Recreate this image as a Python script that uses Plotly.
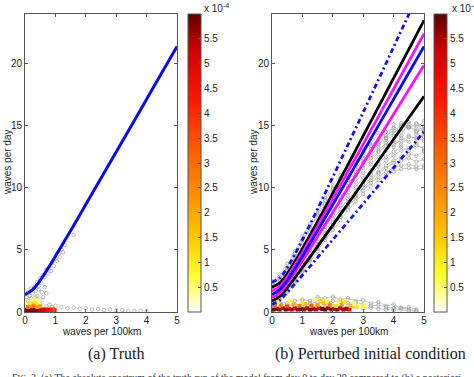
import plotly.graph_objects as go

W, H = 474, 377

# ---------------- data ----------------
line_x = [0, 0.25, 0.5, 0.75, 1, 1.25, 1.5, 1.75, 2, 2.5, 3, 3.5, 4, 4.5, 5]
truth_y = [1.4, 1.80, 2.55, 3.49, 4.49, 5.51, 6.55, 7.60, 8.65, 10.77, 12.89, 15.01, 17.14, 19.27, 21.39]

dash_up = [2.4, 2.74, 3.57, 4.64, 5.82, 7.05, 8.30, 9.58, 10.87, 13.47, 16.08, 18.70, 21.34, 23.97, 26.6]
black_up = [2.0, 2.32, 3.08, 4.04, 5.09, 6.18, 7.30, 8.43, 9.57, 11.87, 14.18, 16.50, 18.83, 21.15, 23.49]
mag_up = [1.7, 2.03, 2.81, 3.76, 4.78, 5.84, 6.92, 8.00, 9.10, 11.30, 13.52, 15.74, 17.96, 20.19, 22.41]
blue_mid = [1.4, 1.80, 2.55, 3.49, 4.49, 5.51, 6.55, 7.60, 8.65, 10.77, 12.89, 15.01, 17.14, 19.27, 21.39]
mag_lo = [1.15, 1.52, 2.29, 3.19, 4.13, 5.09, 6.07, 7.04, 8.02, 9.99, 11.97, 13.94, 15.92, 17.90, 19.88]
black_lo = [0.9, 1.25, 1.95, 2.75, 3.58, 4.43, 5.28, 6.14, 7.00, 8.72, 10.45, 12.18, 13.91, 15.64, 17.37]
dash_lo = [0.6, 0.94, 1.57, 2.26, 2.96, 3.67, 4.39, 5.11, 5.83, 7.27, 8.72, 10.17, 11.62, 13.06, 14.51]

ens_x = [0, 0.25, 0.5, 0.75, 1, 1.25, 1.5, 1.75, 2, 2.25, 2.5, 2.75, 3, 3.25, 3.5, 3.75, 4, 4.25, 4.5, 4.75, 5]
ens_members = [
    [2.2, 2.6, 3.4, 4.5, 5.6, 6.7, 7.8, 8.7, 9.6, 10.3, 11.0, 11.8, 12.4, 13.1, 13.6, 14.2, 14.6, 15.0, 14.8, 15.2, 15.0],
    [1.8, 2.2, 3.0, 4.0, 5.1, 6.1, 7.2, 8.2, 9.1, 9.9, 10.6, 11.3, 12.0, 12.6, 13.3, 13.9, 14.2, 14.6, 14.9, 14.5, 14.7],
    [1.4, 1.9, 2.6, 3.6, 4.6, 5.5, 6.6, 7.5, 8.5, 9.3, 10.1, 10.9, 11.6, 12.2, 12.9, 13.4, 13.8, 13.5, 14.1, 14.0, 13.8],
    [1.2, 1.5, 2.2, 3.1, 4.0, 5.0, 5.9, 6.9, 7.8, 8.6, 9.4, 10.1, 10.8, 11.4, 12.0, 12.5, 12.9, 13.3, 13.0, 13.4, 13.2],
    [1.0, 1.3, 1.9, 2.7, 3.6, 4.5, 5.4, 6.3, 7.2, 8.0, 8.8, 9.5, 10.2, 10.8, 11.3, 11.8, 12.2, 12.5, 12.7, 12.6, 12.9],
    [0.8, 1.1, 1.6, 2.4, 3.2, 4.1, 4.9, 5.8, 6.6, 7.4, 8.2, 8.9, 9.5, 10.1, 10.6, 11.0, 11.3, 11.5, 11.6, 11.5, 11.6],
    [2.5, 3.0, 3.9, 4.9, 6.1, 7.1, 8.2, 9.2, 10.2, 11.0, 11.7, 12.5, 13.2, 13.5, 14.4, 14.0, 15.1, 14.2, 15.3, 14.8, 15.4],
    [1.6, 2.0, 2.8, 3.8, 4.8, 5.8, 6.9, 7.8, 8.8, 9.6, 10.4, 11.0, 11.9, 12.4, 13.0, 13.6, 13.3, 14.0, 13.7, 14.3, 14.1],
    [2.0, 2.5, 3.3, 4.3, 5.3, 6.4, 7.4, 8.4, 9.3, 10.1, 10.8, 11.5, 12.3, 12.9, 13.5, 14.0, 14.4, 14.9, 15.0, 14.6, 14.9],
    [1.3, 1.7, 2.4, 3.3, 4.3, 5.3, 6.3, 7.2, 8.1, 9.0, 9.8, 10.5, 11.2, 11.9, 12.5, 13.0, 13.5, 13.8, 14.2, 13.9, 14.4],
    [0.9, 1.2, 1.8, 2.6, 3.4, 4.3, 5.2, 6.1, 7.0, 7.8, 8.6, 9.3, 10.0, 10.6, 11.2, 11.6, 12.0, 12.2, 12.4, 12.1, 12.3],
    [1.1, 1.4, 2.0, 2.9, 3.8, 4.7, 5.7, 6.6, 7.5, 8.3, 9.1, 9.8, 10.5, 11.1, 11.7, 12.2, 12.6, 13.0, 13.2, 13.6, 13.0],
    [2.3, 2.8, 3.6, 4.7, 5.8, 6.9, 7.9, 9.0, 9.9, 10.7, 11.4, 12.1, 12.8, 13.4, 13.9, 14.5, 14.8, 15.2, 14.9, 15.1, 14.6],
    [0.7, 1.0, 1.7, 2.5, 3.3, 4.2, 5.1, 6.0, 6.9, 7.7, 8.5, 9.2, 9.8, 10.4, 10.9, 11.3, 11.6, 11.8, 11.9, 11.7, 11.8],
]

band_x = [0, 0.25, 0.5, 0.75, 1, 1.25, 1.5, 1.75, 2, 2.25, 2.5, 2.75, 3, 3.25, 3.5, 3.75, 4, 4.25, 4.5, 4.75]
band_members = [
    [0.6, 0.8, 0.7, 0.9, 1.0, 0.9, 1.2, 1.1, 1.25, 1.0, 1.1, 0.9, 0.95, 0.7, 0.8, 0.5, 0.6, 0.3, 0.4, 0.2],
    [0.3, 0.4, 0.5, 0.6, 0.5, 0.7, 0.8, 0.7, 0.9, 0.8, 0.7, 0.75, 0.6, 0.5, 0.55, 0.4, 0.3, 0.35, 0.2, 0.1],
    [0.15, 0.2, 0.3, 0.25, 0.35, 0.4, 0.5, 0.45, 0.5, 0.4, 0.45, 0.35, 0.3, 0.35, 0.25, 0.2, 0.15, 0.2, 0.1, 0.05],
]

left_gray_x = [0.05, 0.1, 0.15, 0.2, 0.25, 0.3, 0.35, 0.4, 0.45, 0.5, 0.55, 0.6, 0.65, 0.7, 0.75, 0.8, 0.85, 0.9,
               0.95, 1.0, 1.05, 1.1, 1.15, 1.2, 1.25, 1.3, 1.6,
               0.1, 0.2, 0.3, 0.4, 0.5, 0.55, 0.6, 0.65, 0.45, 0.35, 0.15, 0.7,
               0.8, 0.9, 1.0, 1.2, 1.4, 1.6, 1.8, 2.0, 2.2, 2.4, 2.6, 2.8, 3.0, 3.2, 3.4, 3.6, 3.8, 4.0,
               0.3, 0.5, 0.7]
left_gray_y = [1.2, 1.6, 1.3, 1.9, 1.5, 2.0, 1.7, 2.4, 2.1, 2.7, 2.3, 3.0, 2.8, 3.4, 3.1, 3.6, 3.3, 4.0,
               3.7, 4.3, 4.1, 4.7, 4.4, 5.0, 4.8, 5.4, 6.2,
               0.9, 1.1, 0.8, 1.3, 1.0, 1.6, 1.2, 2.0, 1.8, 1.2, 0.7, 1.5,
               0.6, 0.4, 0.5, 0.4, 0.3, 0.35, 0.25, 0.3, 0.2, 0.25, 0.15, 0.2, 0.12, 0.15, 0.1, 0.08, 0.1, 0.05,
               0.6, 0.7, 0.45]

left_col_x = [0.02, 0.08, 0.14, 0.2, 0.26, 0.32, 0.38, 0.44, 0.5, 0.56, 0.62, 0.68, 0.74, 0.8, 0.86, 0.92, 0.98,
              0.1, 0.2, 0.3, 0.4, 0.5, 0.15, 0.35, 0.25, 0.45]
left_col_y = [0.15, 0.2, 0.15, 0.2, 0.15, 0.2, 0.15, 0.2, 0.15, 0.2, 0.15, 0.2, 0.15, 0.2, 0.15, 0.2, 0.15,
              0.4, 0.45, 0.5, 0.4, 0.45, 0.7, 0.75, 1.0, 0.9]
left_col_c = [5.9, 5.8, 5.9, 5.7, 5.9, 5.6, 5.8, 5.5, 5.4, 5.6, 5.0, 5.2, 4.6, 4.8, 4.2, 4.0, 3.5,
              3.0, 2.5, 2.8, 2.0, 2.2, 1.0, 1.2, 0.6, 0.5]

right_col_x = [0.05, 0.15, 0.25, 0.35, 0.45, 0.55, 0.65, 0.75, 0.85, 0.95, 1.05, 1.15, 1.25, 1.35, 1.45, 1.55,
               1.65, 1.75, 1.85, 1.95, 2.05, 2.15, 2.25, 2.35, 2.45, 2.55,
               0.1, 0.3, 0.5, 0.7, 0.9, 1.1, 1.3, 1.5, 1.7, 1.9, 2.1, 2.3, 2.6, 2.8, 3.0, 1.6, 2.4,
               0.2, 0.6, 1.0, 1.4, 1.8, 2.2, 2.7, 3.1, 1.6]
right_col_y = [0.2, 0.25, 0.2, 0.3, 0.2, 0.25, 0.2, 0.3, 0.2, 0.25, 0.2, 0.3, 0.2, 0.25, 0.2, 0.3,
               0.25, 0.2, 0.3, 0.2, 0.25, 0.2, 0.3, 0.2, 0.25, 0.2,
               0.5, 0.55, 0.45, 0.6, 0.5, 0.65, 0.5, 0.55, 0.7, 0.6, 0.5, 0.65, 0.5, 0.45, 0.4, 0.9, 0.8,
               0.8, 0.9, 0.75, 1.0, 0.85, 0.9, 0.7, 0.6, 5.9]
right_col_c = [5.8, 5.9, 5.6, 5.2, 5.9, 5.7, 5.5, 5.0, 5.8, 5.9, 5.6, 5.3, 5.9, 5.7, 5.4, 5.0,
               5.8, 5.9, 5.5, 5.7, 5.2, 5.8, 5.0, 5.6, 5.4, 4.8,
               3.0, 2.5, 3.5, 2.0, 2.8, 1.5, 3.2, 2.2, 1.8, 2.6, 1.2, 2.0, 1.6, 1.0, 0.8, 1.4, 1.0,
               0.9, 0.6, 1.1, 0.5, 0.8, 0.7, 0.5, 0.4, 1.0]

cbar_ticks = [0.5, 1, 1.5, 2, 2.5, 3, 3.5, 4, 4.5, 5, 5.5]
cbar_labels = ["0.5", "1", "1.5", "2", "2.5", "3", "3.5", "4", "4.5", "5", "5.5"]
x_ticks = [0, 1, 2, 3, 4, 5]
y_ticks = [0, 5, 10, 15, 20]

# ---------------- layout helpers ----------------
def px_x(p):
    return p / W

def px_y(p):
    return (H - p) / H

PLOT_TOP, PLOT_BOT = 14, 312
L_X0, L_X1 = 25, 177
R_X0, R_X1 = 272, 424

hot_scale = [
    [0.0, "#ffffff"], [0.12, "#ffff30"], [0.25, "#ffc800"], [0.4, "#ff8c00"],
    [0.55, "#ff5a00"], [0.72, "#ff1400"], [0.88, "#d20000"], [1.0, "#5a0000"],
]

fig = go.Figure()

GRAY = "#a0a0a0"
gray_marker = dict(symbol="circle-open", size=3.5, color=GRAY, line=dict(width=0.7))

fig.add_trace(go.Scatter(x=left_gray_x, y=left_gray_y, mode="markers", xaxis="x", yaxis="y",
                         marker=gray_marker, showlegend=False, hoverinfo="skip"))
fig.add_trace(go.Scatter(x=left_col_x, y=left_col_y, mode="markers", xaxis="x", yaxis="y",
                         marker=dict(symbol="square", size=4, color=left_col_c, coloraxis="coloraxis"),
                         showlegend=False, hoverinfo="skip"))
fig.add_trace(go.Scatter(x=line_x, y=truth_y, mode="lines", xaxis="x", yaxis="y",
                         line=dict(color="#0a0ae6", width=3, shape="spline"), showlegend=False))

for m in ens_members:
    fig.add_trace(go.Scatter(x=ens_x, y=m, mode="lines+markers", xaxis="x2", yaxis="y2",
                             line=dict(color="#b8b8b8", width=0.7), marker=gray_marker,
                             showlegend=False, hoverinfo="skip"))
for m in band_members:
    fig.add_trace(go.Scatter(x=band_x, y=m, mode="lines+markers", xaxis="x2", yaxis="y2",
                             line=dict(color="#b8b8b8", width=0.7), marker=gray_marker,
                             showlegend=False, hoverinfo="skip"))
fig.add_trace(go.Scatter(x=right_col_x, y=right_col_y, mode="markers", xaxis="x2", yaxis="y2",
                         marker=dict(symbol="square", size=4, color=right_col_c, coloraxis="coloraxis2"),
                         showlegend=False, hoverinfo="skip"))

DASH = "5px,3px,2px,3px"
right_lines = [
    (dash_up, "#1414e6", DASH),
    (dash_lo, "#1414e6", DASH),
    (black_up, "#000000", "solid"),
    (black_lo, "#000000", "solid"),
    (mag_up, "#ff14ff", "solid"),
    (mag_lo, "#ff14ff", "solid"),
    (blue_mid, "#0a0ae6", "solid"),
]
for ys, col, dash in right_lines:
    fig.add_trace(go.Scatter(x=line_x, y=ys, mode="lines", xaxis="x2", yaxis="y2",
                             line=dict(color=col, width=2.8, dash=dash, shape="spline"), showlegend=False))

axis_font = dict(family="Liberation Sans, Arial", size=10, color="#222222")
common_x = dict(range=[0, 5], tickvals=x_ticks, ticks="inside", ticklen=3, tickcolor="#555",
                showline=True, linecolor="#555", linewidth=1, mirror="ticks", showgrid=False,
                zeroline=False, tickfont=axis_font, fixedrange=True, ticklabelstandoff=-1)
common_y = dict(range=[0, 24], tickvals=y_ticks, ticks="inside", ticklen=3, tickcolor="#555",
                showline=True, linecolor="#555", linewidth=1, mirror="ticks", showgrid=False,
                zeroline=False, tickfont=axis_font, fixedrange=True)

def cbar(xpix):
    return dict(x=px_x(xpix), xanchor="left", xpad=0, y=px_y(PLOT_TOP), yanchor="top", ypad=0,
                len=PLOT_BOT - PLOT_TOP, lenmode="pixels", thickness=13, thicknessmode="pixels",
                outlinecolor="#555", outlinewidth=1, tickvals=cbar_ticks, ticktext=cbar_labels,
                ticks="inside", ticklen=3, tickcolor="#555", tickfont=axis_font)

fig.update_layout(
    width=W, height=H, margin=dict(l=0, r=0, t=0, b=0, autoexpand=False),
    paper_bgcolor="white", plot_bgcolor="white",
    xaxis=dict(domain=[px_x(L_X0), px_x(L_X1)], anchor="y", **common_x),
    yaxis=dict(domain=[px_y(PLOT_BOT), px_y(PLOT_TOP)], anchor="x", **common_y),
    xaxis2=dict(domain=[px_x(R_X0), px_x(R_X1)], anchor="y2", **common_x),
    yaxis2=dict(domain=[px_y(PLOT_BOT), px_y(PLOT_TOP)], anchor="x2", **common_y),
    coloraxis=dict(cmin=0, cmax=6, colorscale=hot_scale, colorbar=cbar(188)),
    coloraxis2=dict(cmin=0, cmax=6, colorscale=hot_scale, colorbar=cbar(434)),
    showlegend=False,
)

ann = []
title_font = dict(family="Liberation Sans, Arial", size=10, color="#222222")
for cx in [(L_X0 + L_X1) / 2, (R_X0 + R_X1) / 2]:
    ann.append(dict(text="waves per 100km", x=px_x(cx), y=px_y(331), xref="paper", yref="paper",
                    showarrow=False, xanchor="center", yanchor="middle", font=title_font))
for cx in [7, 253]:
    ann.append(dict(text="waves per day", x=px_x(cx), y=px_y((PLOT_TOP + PLOT_BOT) / 2), xref="paper",
                    yref="paper", showarrow=False, textangle=-90, xanchor="center", yanchor="middle",
                    font=title_font))
for lx in [202, 450]:
    ann.append(dict(text="x 10<sup>-4</sup>", x=px_x(lx), y=px_y(8), xref="paper", yref="paper",
                    showarrow=False, xanchor="left", yanchor="middle", font=title_font))
serif = dict(family="Liberation Serif, Times New Roman", size=16, color="#222222")
ann.append(dict(text="(a) Truth", x=px_x(115.5), y=px_y(354), xref="paper", yref="paper",
                showarrow=False, xanchor="center", yanchor="middle", font=serif))
ann.append(dict(text="(b) Perturbed initial condition", x=px_x(370), y=px_y(354), xref="paper", yref="paper",
                showarrow=False, xanchor="center", yanchor="middle", font=serif))
ann.append(dict(text="F<span style='font-size:8px'>IG</span>. 3. (a) The absolute spectrum of the truth run of the model from day 0 to day 20 compared to (b) a posteriori",
                x=px_x(10), y=px_y(370), xref="paper", yref="paper", showarrow=False,
                xanchor="left", yanchor="top",
                font=dict(family="Liberation Serif, Times New Roman", size=10, color="#333333")))
fig.update_layout(annotations=ann)

fig.write_html("out.html", config={"displayModeBar": False},
               post_script="document.body.style.margin='0';document.body.style.overflow='hidden';")
